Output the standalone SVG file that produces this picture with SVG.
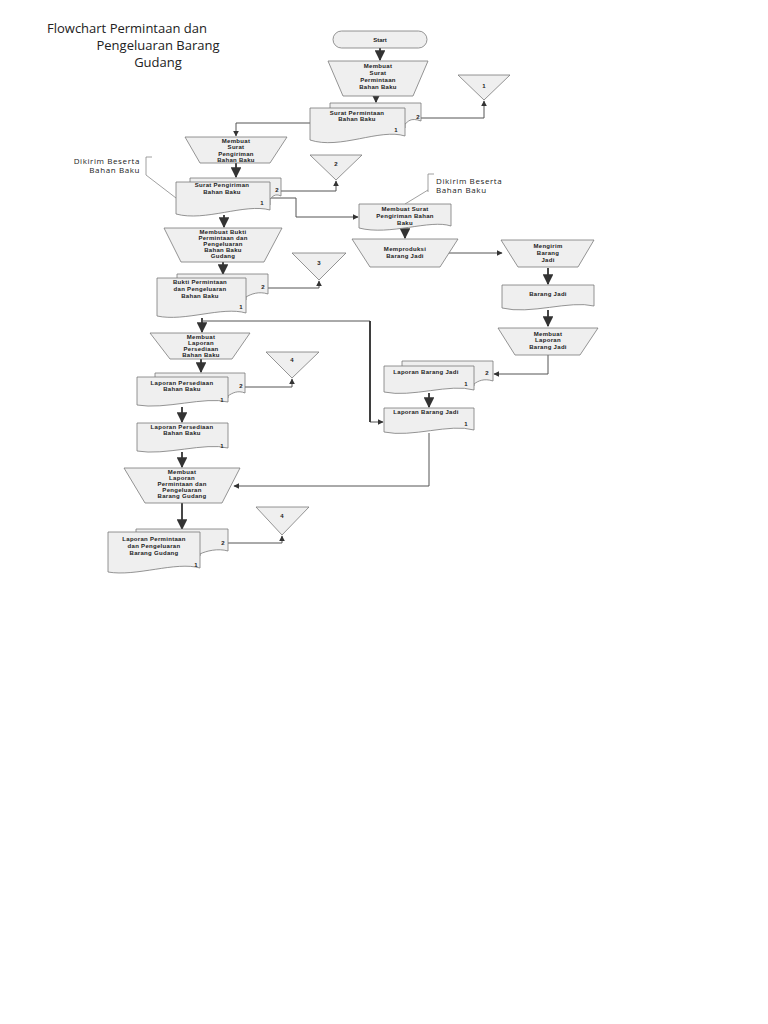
<svg xmlns="http://www.w3.org/2000/svg" width="768" height="1024" viewBox="0 0 768 1024">
<style>
.s{fill:#efefef;stroke:#7a7a7a;stroke-width:0.8}
.t{font-family:"Liberation Sans",Arial,sans-serif;font-size:6px;font-weight:bold;fill:#222;text-anchor:middle;letter-spacing:0.3px}
.n{font-family:"Liberation Sans",Arial,sans-serif;font-size:6px;font-weight:bold;fill:#222;text-anchor:middle}
.title{font-family:"Open Sans",sans-serif;font-size:13px;fill:#222}
.ann{font-family:"Open Sans",sans-serif;font-size:8px;fill:#222;letter-spacing:0.6px}
.c{fill:none;stroke:#555;stroke-width:1}
.ck{fill:none;stroke:#333;stroke-width:1.8}
</style>
<defs>
<marker id="a" viewBox="0 0 10 10" refX="9" refY="5" markerWidth="6" markerHeight="6" orient="auto"><path d="M0,0 L10,5 L0,10 z" fill="#333"/></marker>
</defs>
<rect width="768" height="1024" fill="#fff"/>
<g id="title">
<text class="title" x="47" y="33">Flowchart Permintaan dan</text>
<text class="title" x="158" y="50" text-anchor="middle">Pengeluaran Barang</text>
<text class="title" x="158" y="67" text-anchor="middle">Gudang</text>
</g>
<g id="connectors">
<path class="ck" d="M380,48 V60" marker-end="url(#a)"/>
<path class="ck" d="M376,96 V102" marker-end="url(#a)"/>
<path class="c" d="M421,118 H484 V101" marker-end="url(#a)"/>
<path class="c" d="M310,123 H236 V136" marker-end="url(#a)"/>
<path class="ck" d="M236,163 V177" marker-end="url(#a)"/>
<path class="c" d="M281,191 H336 V181" marker-end="url(#a)"/>
<path class="c" d="M270,198 H296 V217 H358" marker-end="url(#a)"/>
<path class="ck" d="M224,215 V227" marker-end="url(#a)"/>
<path class="ck" d="M405,229 V238" marker-end="url(#a)"/>
<path class="c" d="M445,253 H502" marker-end="url(#a)"/>
<path class="ck" d="M548,268 V284" marker-end="url(#a)"/>
<path class="ck" d="M548,310 V326" marker-end="url(#a)"/>
<path class="c" d="M548,355 V374 H494" marker-end="url(#a)"/>
<path class="ck" d="M429,393 V407" marker-end="url(#a)"/>
<path class="c" d="M429,433 V486 H234" marker-end="url(#a)"/>
<path class="ck" d="M223,262 V274" marker-end="url(#a)"/>
<path class="c" d="M268,288 H319 V281" marker-end="url(#a)"/>
<path class="ck" d="M202,318 V332" marker-end="url(#a)"/>
<path class="c" d="M202,321 H370 V422 H383" marker-end="url(#a)"/>
<path class="ck" d="M370,321 V422" />
<path class="ck" d="M201,359 V372" marker-end="url(#a)"/>
<path class="c" d="M245,387 H292 V379" marker-end="url(#a)"/>
<path class="ck" d="M182,407 V422" marker-end="url(#a)"/>
<path class="ck" d="M182,452 V467" marker-end="url(#a)"/>
<path class="ck" d="M182,503 V529" marker-end="url(#a)"/>
<path class="c" d="M228,543 H282 V536" marker-end="url(#a)"/>
<path d="M146,157 H152 M146,157 V175 M146,175 L176,198" stroke="#888" stroke-width="0.8" fill="none"/>
<path d="M434,174 H428 V192 M428,190 L405,204" stroke="#888" stroke-width="0.8" fill="none"/>
</g>
<g id="start"><rect class="s" x="333" y="31" width="94" height="17" rx="8.5"/><text class="n" x="380" y="42">Start</text></g>
<g id="op1"><path class="s" d="M328,61 H428 L413,96 H343 Z"/>
<text class="t" x="378" y="68">Membuat</text><text class="t" x="378" y="75">Surat</text><text class="t" x="378" y="82">Permintaan</text><text class="t" x="378" y="89">Bahan Baku</text></g>
<g id="doc1"><path class="s" d="M330,103 H421 V121 C410,117 408,122 405,124 V128 H330 Z"/>
<path class="s" d="M310,108 H405 V136 C380,128 340,150 310,140 Z"/>
<text class="t" x="357" y="115">Surat Permintaan</text><text class="t" x="357" y="121">Bahan Baku</text>
<text class="n" x="418" y="119">2</text><text class="n" x="396" y="132">1</text></g>
<g id="tri1"><path class="s" d="M458,75 H510 L484,100 Z"/><text class="n" x="484" y="88">1</text></g>
<g id="op2"><path class="s" d="M185,137 H287 L270,163 H200 Z"/>
<text class="t" x="236" y="143">Membuat</text><text class="t" x="236" y="149">Surat</text><text class="t" x="236" y="156">Pengiriman</text><text class="t" x="236" y="162">Bahan Baku</text></g>
<g id="doc2"><path class="s" d="M190,178 H281 V196 C275,193 272,197 270,199 V205 H190 Z"/>
<path class="s" d="M176,182 H270 V210 C245,203 205,222 176,214 Z"/>
<text class="t" x="222" y="187">Surat Pengiriman</text><text class="t" x="222" y="194">Bahan Baku</text>
<text class="n" x="277" y="192">2</text><text class="n" x="262" y="205">1</text></g>
<g id="tri2"><path class="s" d="M310,155 H362 L336,180 Z"/><text class="n" x="336" y="166">2</text></g>
<g id="ann1"><text class="ann" x="140" y="164" text-anchor="end">Dikirim Beserta</text><text class="ann" x="140" y="173" text-anchor="end">Bahan Baku</text></g>
<g id="ann2"><text class="ann" x="436" y="184">Dikirim Beserta</text><text class="ann" x="436" y="193">Bahan Baku</text></g>
<g id="doc3"><path class="s" d="M359,204 H451 V226 C430,219 390,236 359,228 Z"/>
<text class="t" x="405" y="211">Membuat Surat</text><text class="t" x="405" y="218">Pengiriman Bahan</text><text class="t" x="405" y="225">Baku</text></g>
<g id="op3"><path class="s" d="M352,239 H458 L440,267 H370 Z"/>
<text class="t" x="405" y="251">Memproduksi</text><text class="t" x="405" y="258">Barang Jadi</text></g>
<g id="op4"><path class="s" d="M501,240 H594 L578,267 H518 Z"/>
<text class="t" x="548" y="248">Mengirim</text><text class="t" x="548" y="255">Barang</text><text class="t" x="548" y="262">Jadi</text></g>
<g id="doc4"><path class="s" d="M502,285 H594 V306 C570,300 530,315 502,308 Z"/>
<text class="t" x="548" y="296">Barang Jadi</text></g>
<g id="op5"><path class="s" d="M498,328 H598 L580,355 H515 Z"/>
<text class="t" x="548" y="336">Membuat</text><text class="t" x="548" y="342">Laporan</text><text class="t" x="548" y="349">Barang Jadi</text></g>
<g id="doc5"><path class="s" d="M402,361 H493 V381 C484,378 478,381 474,384 V386 H402 Z"/>
<path class="s" d="M384,366 H474 V390 C450,383 412,398 384,392 Z"/>
<text class="t" x="426" y="374">Laporan Barang Jadi</text>
<text class="n" x="487" y="375">2</text><text class="n" x="466" y="386">1</text></g>
<g id="doc6"><path class="s" d="M384,408 H474 V430 C450,423 412,438 384,432 Z"/>
<text class="t" x="426" y="414">Laporan Barang Jadi</text><text class="n" x="466" y="426">1</text></g>
<g id="op6"><path class="s" d="M164,228 H282 L264,262 H181 Z"/>
<text class="t" x="223" y="234">Membuat Bukti</text><text class="t" x="223" y="240">Permintaan dan</text><text class="t" x="223" y="246">Pengeluaran</text><text class="t" x="223" y="252">Bahan Baku</text><text class="t" x="223" y="258">Gudang</text></g>
<g id="doc7"><path class="s" d="M177,274 H268 V294 C259,291 251,294 246,297 V300 H177 Z"/>
<path class="s" d="M157,278 H246 V313 C222,306 185,322 157,316 Z"/>
<text class="t" x="200" y="284">Bukti Permintaan</text><text class="t" x="200" y="291">dan Pengeluaran</text><text class="t" x="200" y="298">Bahan Baku</text>
<text class="n" x="263" y="289">2</text><text class="n" x="241" y="309">1</text></g>
<g id="tri3"><path class="s" d="M292,253 H346 L319,280 Z"/><text class="n" x="319" y="265">3</text></g>
<g id="op7"><path class="s" d="M150,333 H250 L232,359 H170 Z"/>
<text class="t" x="201" y="339">Membuat</text><text class="t" x="201" y="345">Laporan</text><text class="t" x="201" y="351">Persediaan</text><text class="t" x="201" y="357">Bahan Baku</text></g>
<g id="doc8"><path class="s" d="M155,373 H245 V393 C238,390 232,393 228,396 V398 H155 Z"/>
<path class="s" d="M137,377 H228 V402 C205,396 165,410 137,405 Z"/>
<text class="t" x="182" y="385">Laporan Persediaan</text><text class="t" x="182" y="391">Bahan Baku</text>
<text class="n" x="241" y="388">2</text><text class="n" x="222" y="402">1</text></g>
<g id="tri4"><path class="s" d="M266,352 H319 L292,378 Z"/><text class="n" x="292" y="362">4</text></g>
<g id="doc9"><path class="s" d="M137,423 H228 V448 C205,442 165,456 137,451 Z"/>
<text class="t" x="182" y="429">Laporan Persediaan</text><text class="t" x="182" y="435">Bahan Baku</text><text class="n" x="222" y="448">1</text></g>
<g id="op8"><path class="s" d="M124,468 H240 L222,503 H145 Z"/>
<text class="t" x="182" y="474">Membuat</text><text class="t" x="182" y="480">Laporan</text><text class="t" x="182" y="486">Permintaan dan</text><text class="t" x="182" y="492">Pengeluaran</text><text class="t" x="182" y="498">Barang Gudang</text></g>
<g id="doc10"><path class="s" d="M136,529 H228 V551 C218,548 206,551 200,554 V556 H136 Z"/>
<path class="s" d="M108,532 H200 V568 C176,561 136,577 108,572 Z"/>
<text class="t" x="154" y="541">Laporan Permintaan</text><text class="t" x="154" y="548">dan Pengeluaran</text><text class="t" x="154" y="555">Barang Gudang</text>
<text class="n" x="223" y="545">2</text><text class="n" x="196" y="567">1</text></g>
<g id="tri5"><path class="s" d="M256,507 H309 L282,535 Z"/><text class="n" x="282" y="518">4</text></g>
</svg>
